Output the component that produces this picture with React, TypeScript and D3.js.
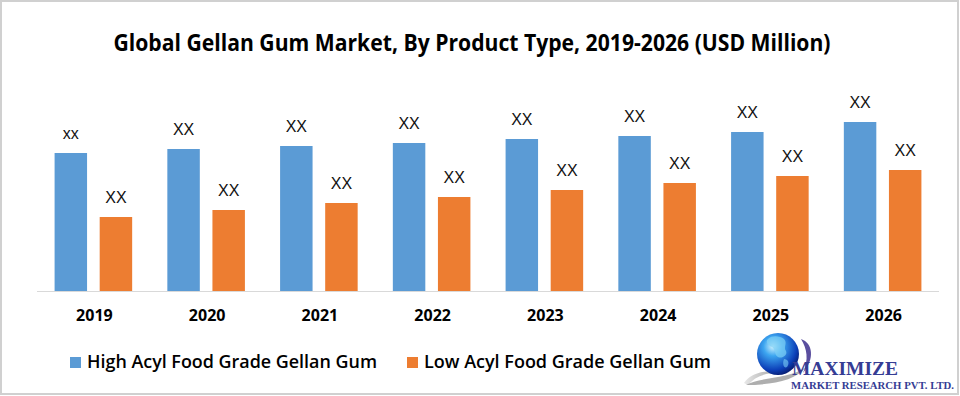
import React from 'react';
import * as d3 from 'd3';

const years = ['2019', '2020', '2021', '2022', '2023', '2024', '2025', '2026'];
const highAcyl = [13.8, 14.2, 14.5, 14.8, 15.2, 15.5, 15.9, 16.9];
const lowAcyl = [7.4, 8.1, 8.8, 9.4, 10.1, 10.8, 11.5, 12.1];
const highLabels = ['xx', 'XX', 'XX', 'XX', 'XX', 'XX', 'XX', 'XX'];
const lowLabels = ['XX', 'XX', 'XX', 'XX', 'XX', 'XX', 'XX', 'XX'];
const seriesNames = ['High Acyl Food Grade Gellan Gum', 'Low Acyl Food Grade Gellan Gum'];
const seriesColors = ['#5B9BD5', '#ED7D31'];

const W = 960;
const H = 396;
const plot = { left: 37, right: 939, top: 91, bottom: 291 };

const App: React.FC = () => {
  // x: 年ごとのバンド
  const x0 = d3.scaleBand().domain(years).range([plot.left, plot.right]).padding(0);
  // 系列ごとのバンド
  const x1 = d3
    .scaleBand()
    .domain(['high', 'low'])
    .range([0, x0.bandwidth()])
    .paddingInner(0.28)
    .paddingOuter(0.39);
  const y = d3.scaleLinear().domain([0, 20]).range([plot.bottom, plot.top]);

  const series = [
    { key: 'high', values: highAcyl, labels: highLabels, color: seriesColors[0] },
    { key: 'low', values: lowAcyl, labels: lowLabels, color: seriesColors[1] },
  ];

  return (
    <div style={{ position: 'absolute', left: 0, top: 0 }}>
      <svg width={W} height={H} style={{ display: 'block' }}>
        <defs>
          <radialGradient id="globe" cx="0.38" cy="0.32" r="0.75">
            <stop offset="0%" stopColor="#CFF3FF" />
            <stop offset="30%" stopColor="#3DA6F0" />
            <stop offset="75%" stopColor="#0C3FB8" />
            <stop offset="100%" stopColor="#06145E" />
          </radialGradient>
          <linearGradient id="swoosh" x1="0" x2="1" y1="0" y2="0">
            <stop offset="0%" stopColor="#E8E8E8" />
            <stop offset="100%" stopColor="#8C8C8C" />
          </linearGradient>
        </defs>
        <rect x={1} y={1} width={W - 3} height={H - 3} fill="#FFFFFF" stroke="#D0D0D0" strokeWidth={2} />

        {/* タイトル */}
        <text
          x={472}
          y={51}
          textAnchor="middle"
          fontFamily="'Open Sans', sans-serif"
          fontWeight="bold"
          fontSize={24}
          textLength={717}
          lengthAdjust="spacingAndGlyphs"
          fill="#000"
        >
          Global Gellan Gum Market, By Product Type, 2019-2026 (USD Million)
        </text>

        {/* 棒 */}
        {series.map((s) =>
          years.map((yr, i) => {
            const bx = (x0(yr) || 0) + (x1(s.key) || 0);
            const by = y(s.values[i]);
            return (
              <g key={s.key + yr}>
                <rect x={bx} y={by} width={x1.bandwidth()} height={plot.bottom - by} fill={s.color} />
                <text
                  x={bx + x1.bandwidth() / 2}
                  y={by - 14}
                  textAnchor="middle"
                  fontFamily="'Liberation Sans', Arial, sans-serif"
                  fontSize={16}
                  fill="#111"
                >
                  {s.labels[i]}
                </text>
              </g>
            );
          })
        )}

        {/* X軸 */}
        <line x1={plot.left} x2={plot.right} y1={plot.bottom + 0.5} y2={plot.bottom + 0.5} stroke="#D9D9D9" strokeWidth={1} />
        {years.map((yr) => (
          <text
            key={yr}
            x={(x0(yr) || 0) + x0.bandwidth() / 2 + 1}
            y={321}
            textAnchor="middle"
            fontFamily="'Open Sans', sans-serif"
            fontWeight="bold"
            fontSize={16}
            fill="#000"
          >
            {yr}
          </text>
        ))}

        {/* 凡例 */}
        {seriesNames.map((name, i) => {
          const lx = [70, 407][i];
          return (
            <g key={name}>
              <rect x={lx} y={357} width={11} height={11} fill={seriesColors[i]} />
              <text
                x={lx + 17}
                y={368}
                fontFamily="'Open Sans', sans-serif"
                fontWeight={600}
                fontSize={18}
                textLength={[290, 287][i]}
                lengthAdjust="spacingAndGlyphs"
                fill="#000"
              >
                {name}
              </text>
            </g>
          );
        })}

        {/* ロゴ */}
        <g>
          <path d="M744,383 C752,371 770,369 790,373 C770,371 756,375 748,385 Z" fill="url(#swoosh)" />
          <path d="M746,385 C760,377 790,379 806,367 C796,381 770,385 746,385 Z" fill="#9A9A9A" opacity={0.8} />
          <circle cx={778} cy={354} r={21} fill="url(#globe)" />
          <path
            d="M768,339 C772,335 780,336 784,339 C788,343 783,347 786,351 C788,355 782,359 778,357 C774,355 776,349 772,347 C768,345 765,342 768,339 Z"
            fill="#7FD0F5"
            opacity={0.7}
          />
          <path d="M784,359 C788,359 790,363 787,367 C784,369 782,364 784,359 Z" fill="#7FD0F5" opacity={0.6} />
          <path d="M801,339 C813,343 815,359 803,373 C809,359 807,349 801,339 Z" fill="#5A4E9E" />
          <text
            x={792}
            y={375}
            fontFamily="'Liberation Serif', 'DejaVu Serif', serif"
            fontWeight="bold"
            fontSize={19}
            textLength={106}
            lengthAdjust="spacingAndGlyphs"
            fill="#353C94"
          >
            MAXIMIZE
          </text>
          <text
            x={791}
            y={389}
            fontFamily="'Liberation Serif', 'DejaVu Serif', serif"
            fontWeight="bold"
            fontSize={10.5}
            textLength={163}
            lengthAdjust="spacingAndGlyphs"
            fill="#353C94"
          >
            MARKET RESEARCH PVT. LTD.
          </text>
        </g>
      </svg>
    </div>
  );
};

export default App;
